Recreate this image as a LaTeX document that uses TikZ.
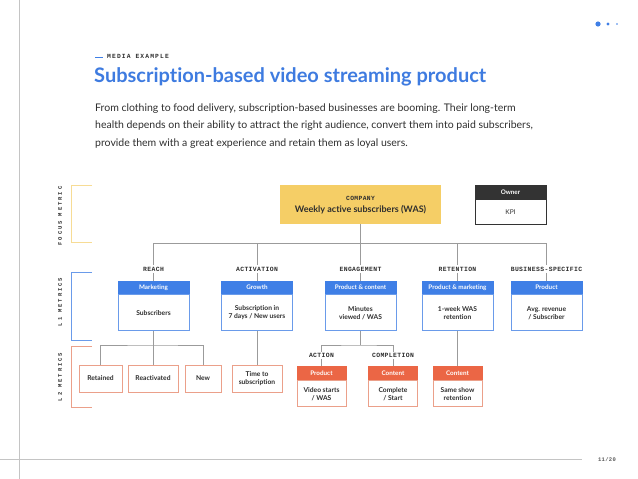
\documentclass[tikz,border=0pt]{standalone}
\usepackage{fontspec}
\setmainfont[Ligatures=NoCommon]{Lato}
\newfontfamily\monof[LetterSpace=6]{Liberation Mono}
\newfontfamily\monowide[LetterSpace=18]{Liberation Mono}
\newfontfamily\monoside[LetterSpace=35]{Liberation Mono}
\definecolor{cblue}{HTML}{3F7FE6}
\definecolor{cbluel}{HTML}{6A9BEA}
\definecolor{corange}{HTML}{EB6645}
\definecolor{clorange}{HTML}{EBA08A}
\definecolor{cyellow}{HTML}{F5CE66}
\definecolor{cyellowl}{HTML}{F7DC95}
\definecolor{cgray}{HTML}{9B9B9B}
\definecolor{ctext}{HTML}{2E2E2E}
\definecolor{ctitle}{HTML}{3E7BE0}
\definecolor{cdark}{HTML}{333333}
\definecolor{cline}{HTML}{C4C4C4}
\begin{document}
\begin{tikzpicture}[x=1pt,y=-1pt,
  conn/.style={draw=cgray, line width=0.7pt},
  colab/.style={font=\monof\bfseries\fontsize{6.4}{7}\selectfont, text=ctext, inner sep=1.5pt},
  sidelab/.style={font=\monoside\bfseries\fontsize{5.5}{6}\selectfont, text=ctext, rotate=90, inner sep=0pt},
  hdr/.style={fill=#1, draw=#1, text=white, font=\bfseries\fontsize{6.3}{7}\selectfont, inner sep=0pt, line width=0.9pt},
  bodybox/.style={draw=#1, fill=white, text=ctext, font=\bfseries\fontsize{6.7}{8.3}\selectfont, align=center, inner sep=0pt, line width=0.9pt},
  brk/.style={line width=0.9pt}
]
\useasboundingbox (0,0) rectangle (638,479);
% page frame
\draw[cline, line width=0.9pt] (19,0) -- (19,479);
\draw[cline, line width=0.9pt] (0,459.5) -- (582,459.5);
\node[font=\monof\bfseries\fontsize{5.5}{6}\selectfont, text=ctext!80] (page) at (607,459.5) {11/20};
\fill[cblue] (598,24) circle (2.6);
\fill[cblue] (608,24) circle (1.7);
\fill[cblue] (617,24) circle (0.9);
% heading
\draw[cblue, line width=0.9pt] (95,57) -- (103,57);
\node[anchor=west, inner sep=0pt, font=\monowide\bfseries\fontsize{6.3}{7}\selectfont, text=ctext] (kicker) at (107,56) {MEDIA EXAMPLE};
\node[anchor=base west, inner sep=0pt, font=\bfseries\fontsize{20}{23}\selectfont, text=ctitle] (title) at (94,82) {Subscription-based video streaming product};
\node[anchor=base west, inner sep=0pt, font=\fontsize{10.5}{12}\selectfont, text=ctext] (p1) at (95,111) {From clothing to food delivery, subscription-based businesses are booming. Their long-term};
\node[anchor=base west, inner sep=0pt, font=\fontsize{10.5}{12}\selectfont, text=ctext] (p2) at (95,128.5) {health depends on their ability to attract the right audience, convert them into paid subscribers,};
\node[anchor=base west, inner sep=0pt, font=\fontsize{10.5}{12}\selectfont, text=ctext] (p3) at (95,146) {provide them with a great experience and retain them as loyal users.};
% side labels and brackets
\node[sidelab] (focus) at (60,216) {FOCUS METRIC};
\node[sidelab] (l1lab) at (60,302) {L1 METRICS};
\node[sidelab] (l2lab) at (60,377) {L2 METRICS};
\draw[brk, cyellowl] (92,185) -- (71,185) -- (71,242) -- (92,242);
\draw[brk, cbluel] (92,272) -- (71,272) -- (71,340) -- (92,340);
\draw[brk, clorange] (92,346) -- (71,346) -- (71,407) -- (92,407);
% company
\node[fill=cyellow, minimum width=161pt, minimum height=39pt, inner sep=0pt] (company) at (360.5,204.5) {};
\node[font=\monof\bfseries\fontsize{6.3}{7}\selectfont, text=ctext, inner sep=0pt] (companylab) at (360.5,198) {COMPANY};
\node[font=\bfseries\fontsize{9}{10}\selectfont, text=ctext, inner sep=0pt] (companytxt) at (360.5,210) {Weekly active subscribers (WAS)};
% owner legend
\node[hdr=cdark, minimum width=71pt, minimum height=14pt] (ownerh) at (510.5,192) {Owner};
\node[bodybox=cdark, anchor=north, minimum width=71pt, minimum height=25pt, font=\fontsize{6.6}{8}\selectfont] (owner) at (ownerh.south) {KPI};
% bus
\coordinate (busL) at (153.5,243);
\coordinate (busR) at (546.5,243);
\draw[conn] (busL) -- (busR);
\draw[conn] (company.south) -- (company.south |- busL);
% L1 column labels
\node[colab] (lreach) at (153.5,269) {REACH};
\node[colab] (lact) at (257,269) {ACTIVATION};
\node[colab] (leng) at (360.5,269) {ENGAGEMENT};
\node[colab] (lret) at (457.5,269) {RETENTION};
\node[colab] (lbiz) at (546.5,269) {BUSINESS-SPECIFIC};
% L1 boxes
\foreach \n/\x/\h/\t in {reach/153.5/Marketing/Subscribers,
  act/257/Growth/{Subscription in\\7 days / New users},
  eng/360.5/Product \& content/{Minutes\\viewed / WAS},
  ret/457.5/Product \& marketing/{1-week WAS\\retention},
  biz/546.5/Product/{Avg. revenue\\/ Subscriber}}{
  \node[hdr=cblue, minimum width=71pt, minimum height=13pt] (\n h) at (\x,287.5) {\h};
  \node[bodybox=cbluel, anchor=north, minimum width=71pt, minimum height=36pt] (\n) at (\n h.south) {\t};
}
\foreach \n in {reach,act,eng,ret,biz}{
  \draw[conn] (l\n.north) -- (l\n.north |- busL);
  \draw[conn] (l\n.south) -- (\n h.north);
}
% L2 under reach
\node[bodybox=clorange, minimum width=43pt, minimum height=27pt] (retained) at (100.5,378.5) {Retained};
\node[bodybox=clorange, minimum width=50pt, minimum height=27pt] (reactivated) at (153,378.5) {Reactivated};
\node[bodybox=clorange, minimum width=36pt, minimum height=27pt] (new) at (203,378.5) {New};
\node[bodybox=clorange, minimum width=50pt, minimum height=27pt] (timesub) at (257,378.5) {Time to\\subscription};
\coordinate (rbus) at (153.5,345);
\draw[conn] (reach.south) -- (rbus);
\draw[conn] (retained.north) |- (rbus) -| (new.north);
\draw[conn] (reactivated.north) -- (reactivated.north |- rbus);
\draw[conn] (act.south) -- (timesub.north);
% L2 under engagement
\coordinate (ebus) at (360.5,345);
\node[colab] (laction) at (321.5,355.5) {ACTION};
\node[colab] (lcompl) at (393,355.5) {COMPLETION};
\draw[conn] (eng.south) -- (ebus);
\draw[conn] (laction.north) |- (ebus) -| (lcompl.north);
\node[hdr=corange, minimum width=49pt, minimum height=14pt] (producth) at (321.5,373) {Product};
\node[bodybox=clorange, anchor=north, minimum width=49pt, minimum height=26pt] (product) at (producth.south) {Video starts\\/ WAS};
\node[hdr=corange, minimum width=49pt, minimum height=14pt] (contenth) at (393,373) {Content};
\node[bodybox=clorange, anchor=north, minimum width=49pt, minimum height=26pt] (content) at (contenth.south) {Complete\\/ Start};
\node[hdr=corange, minimum width=49pt, minimum height=14pt] (rcontenth) at (457.5,373) {Content};
\node[bodybox=clorange, anchor=north, minimum width=49pt, minimum height=26pt] (rcontent) at (rcontenth.south) {Same show\\retention};
\draw[conn] (laction.south) -- (producth.north);
\draw[conn] (lcompl.south) -- (contenth.north);
\draw[conn] (ret.south) -- (rcontenth.north);
\end{tikzpicture}
\end{document}
